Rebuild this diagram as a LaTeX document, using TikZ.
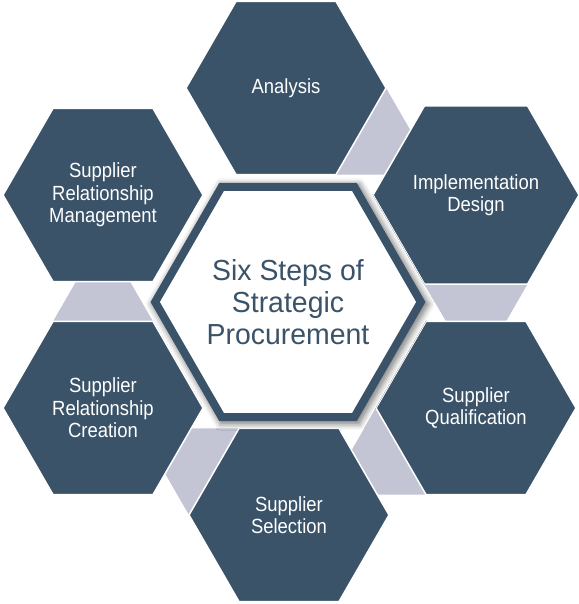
\documentclass[tikz,border=0pt]{standalone}
\usepackage{fontspec}
\setmainfont[FakeStretch=0.9]{Liberation Sans}
\newfontfamily\hubfont[FakeStretch=0.98]{Liberation Sans}
\usepackage{tikz}
\usetikzlibrary{shapes.geometric}
\usetikzlibrary{calc}
\usetikzlibrary{backgrounds, shadows.blur}
\definecolor{hexblue}{HTML}{3A5369}
\definecolor{bridgegray}{HTML}{C4C5D4}

\begin{document}
\begin{tikzpicture}[
        x=1pt, y=-1pt, % coordenadas en píxeles de la imagen
        % --- Estilos personalizados para mayor claridad ---
        stage/.style={regular polygon, regular polygon sides=6, minimum size=200pt,
        inner sep=0pt, outer sep=0pt, fill=hexblue, draw=white, line width=1.5pt,
        text=white, align=center, font=\fontsize{20.5}{22.5}\selectfont},
        hub/.style={regular polygon, regular polygon sides=6, minimum size=257pt,
        inner sep=0pt, outer sep=0pt, fill=white, draw=hexblue, line width=8pt,
        text=hexblue, align=center, font=\hubfont\fontsize{29}{32}\selectfont,
        blur shadow={shadow xshift=2pt, shadow yshift=-2pt, shadow scale=1.05,
        shadow blur radius=5pt, shadow opacity=45}},
        bridge/.style={fill=bridgegray},
    ]
        \useasboundingbox (0,0) rectangle (578,604);

        % --- 1. Dibujar los seis hexágonos de las etapas ---
        \foreach \name/\x/\y/\txt in {ana/286/88/Analysis,
            imp/476/195/{Implementation\\Design},
            qua/476/408/{Supplier\\Qualification},
            sel/289/515/{Supplier\\Selection},
            cre/103/408/{Supplier\\Relationship\\Creation},
            man/103/195/{Supplier\\Relationship\\Management}} {
            \node[stage] (\name) at (\x,\y) {\txt};
        }

        % --- 2. Hexágono central con el título ---
        \node[hub] (core) at (288,302) {Six Steps of\\Strategic\\Procurement};

        % --- 3. Puentes grises entre etapas consecutivas ---
        % Cada puente parte del lado de una etapa y se estrecha hacia la siguiente.
        \begin{scope}[on background layer]
        \foreach \a/\b/\p/\q/\r/\s in {ana/imp/0/300/120/180, imp/qua/300/240/60/120,
            qua/sel/240/180/0/60, sel/cre/120/180/0/300, cre/man/60/120/240/300} {
            \coordinate (pa) at (\a.\p);
            \coordinate (pb) at (\a.\q);
            \coordinate (ea) at (\b.\r);
            \coordinate (eb) at (\b.\s);
            \coordinate (tip) at ($(pa)+(pb)-(\a.center)$);
            \fill[bridge] (pa) -- (intersection of pa--tip and ea--eb)
                -- (intersection of pb--tip and ea--eb) -- (pb) -- cycle;
        }
        \end{scope}

\end{tikzpicture}
\end{document}
